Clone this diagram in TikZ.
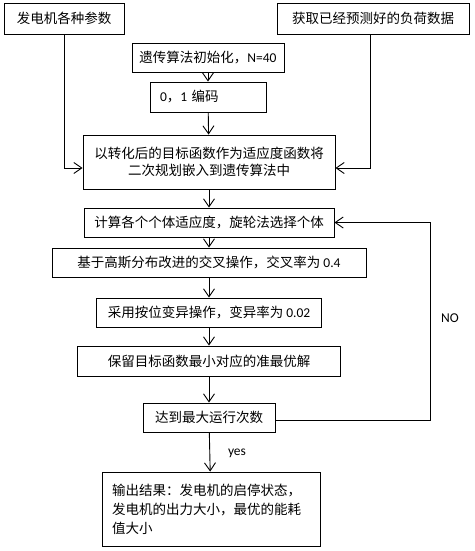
\documentclass[tikz,border=0pt]{standalone}
\usepackage{fontspec}
\setmainfont{Carlito}
\newfontfamily\cjk{Noto Sans CJK SC}
\usepackage{tikz}
\usetikzlibrary{graphs}
\usetikzlibrary{arrows.meta}

\begin{document}
\begin{tikzpicture}[x=1pt, y=-1pt, line width=0.9pt, >={Straight Barb[length=8pt,width=11pt]},
	main/.style = {draw, rectangle, inner sep=0pt, font=\fontsize{13.5}{17}\selectfont},
	lbl/.style = {font=\fontsize{13.5}{17}\selectfont}]
							\useasboundingbox (0,0) rectangle (474,551);
							\node[main, minimum width=120, minimum height=31] (1) at (64, 18.5) {\cjk 发电机各种参数};
							\node[main, minimum width=192, minimum height=31] (2) at (373, 18.5) {\cjk 获取已经预测好的负荷数据};
							\node[main, minimum width=152, minimum height=29] (3) at (208, 57.5) {{\cjk 遗传算法初始化，}N=40};
							\node[main, minimum width=116, minimum height=30, text width=96, align=left] (4) at (208, 97) {0{\cjk ，}1 {\cjk 编码}};
							\node[main, minimum width=252, minimum height=54, align=center] (5) at (209, 162) {\cjk 以转化后的目标函数作为适应度函数将\\\cjk 二次规划嵌入到遗传算法中};
							\node[main, minimum width=250, minimum height=29] (6) at (209, 222.5) {\cjk 计算各个个体适应度，旋轮法选择个体};
							\node[main, minimum width=314, minimum height=29] (7) at (209, 262.5) {{\cjk 基于高斯分布改进的交叉操作，交叉率为} 0.4};
							\node[main, minimum width=225, minimum height=29] (8) at (209, 312.5) {{\cjk 采用按位变异操作，变异率为} 0.02};
							\node[main, minimum width=263, minimum height=30] (9) at (209, 361) {\cjk 保留目标函数最小对应的准最优解};
							\node[main, minimum width=132, minimum height=29] (10) at (209, 417.5) {\cjk 达到最大运行次数};
							\node[main, minimum width=218, minimum height=74, text width=198, align=left, font=\fontsize{13.5}{19}\selectfont] (11) at (211, 509) {\cjk 输出结果：发电机的启停状态，\\\cjk 发电机的出力大小，最优的能耗\\\cjk 值大小};
							\coordinate (r) at (430, 0);
							\node[lbl] (no) at (450, 318) {NO};
							\node[lbl] (yes) at (237, 453) {yes};
							\graph {
								(3) -> (4) -> (5) -> (6) -> (7) -> (8) -> (9) -> (10) -> (11);
								};
							\draw[->] (1.south) |- ([yshift=-6pt]5.west);
							\draw[->] (2.south -| 370, 0) |- ([yshift=-6pt]5.east);
							\draw[->] ([yshift=-2.5pt]10.east) -| (r |- 6.east) -- (6.east);
							\end{tikzpicture}
\end{document}
